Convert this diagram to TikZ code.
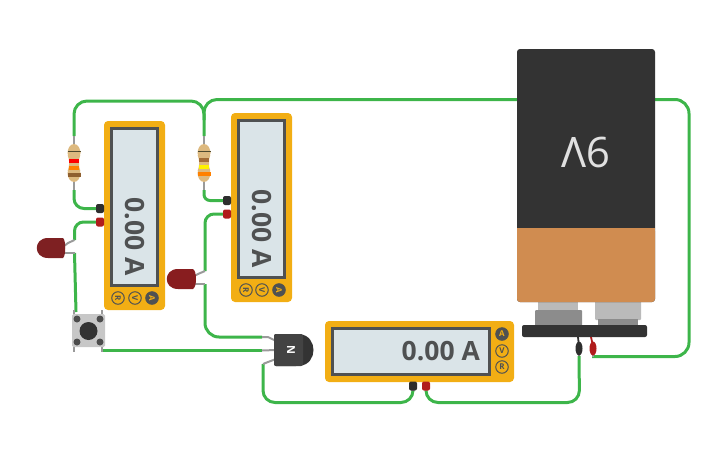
\documentclass[tikz,border=0pt]{standalone}
\usepackage{fontspec}
\setmainfont{Open Sans}
\definecolor{wirec}{HTML}{3DB54A}
\definecolor{meterc}{HTML}{F2AE14}
\definecolor{screenc}{HTML}{DAE4E8}
\definecolor{edgec}{HTML}{4F5152}
\definecolor{leadc}{HTML}{9A9A9A}
\definecolor{skinc}{HTML}{DDB97F}
\definecolor{batc}{HTML}{333333}
\definecolor{copperc}{HTML}{D08C50}
\definecolor{ledc}{HTML}{7E2022}
\definecolor{probec}{HTML}{2E2E2E}
\definecolor{proberc}{HTML}{B01C1C}
\tikzset{
  wire/.style={draw=wirec,line width=3pt,rounded corners=#1},
  wire/.default=13,
  lead/.style={draw=leadc,line width=2pt},
  meterv/.style={fill=meterc,rounded corners=4,minimum width=61,minimum height=189,inner sep=0},
  meterh/.style={fill=meterc,rounded corners=4,minimum width=189,minimum height=61,inner sep=0},
  screenv/.style={fill=screenc,draw=edgec,line width=2.4pt,minimum width=46,minimum height=157,inner sep=0},
  screenh/.style={fill=screenc,draw=edgec,line width=2.4pt,minimum width=157,minimum height=46,inner sep=0},
  readout/.style={text=edgec,inner sep=0,font=\fontsize{26.5}{28}\selectfont\bfseries},
  icono/.style={circle,draw=edgec,line width=1pt,fill=meterc,text=edgec,minimum size=12.5,inner sep=0,font=\fontsize{8}{8}\selectfont\bfseries},
  iconf/.style={icono,fill=edgec,text=meterc},
  bandc/.style={fill=#1,minimum width=13,minimum height=3.4,inner sep=0},
  pad/.style={circle,fill=#1,minimum size=7,inner sep=0},
  tip/.style={ellipse,fill=#1,minimum width=7,minimum height=14,inner sep=0},
  plugk/.style={fill=probec,rounded corners=2,minimum width=8,minimum height=9,inner sep=0},
  plugr/.style={fill=proberc,rounded corners=2,minimum width=8,minimum height=9,inner sep=0}
}
\usetikzlibrary{shapes.geometric}
\begin{document}
\begin{tikzpicture}[x=1pt,y=-1pt]
\useasboundingbox (0,0) rectangle (725,453);
% named ends
\coordinate (r1t) at (74,136); \coordinate (r1b) at (74,190);
\coordinate (r2t) at (204,136); \coordinate (r2b) at (204,190);
\coordinate (m1k) at (97,208.5); \coordinate (m1r) at (97,222);
\coordinate (m2k) at (224,200.5); \coordinate (m2r) at (224,214);
\coordinate (m3k) at (413,391); \coordinate (m3r) at (426,391);
\coordinate (l1a) at (74.5,240); \coordinate (l1c) at (74.5,253);
\coordinate (l2a) at (205,271); \coordinate (l2c) at (205,284);
\coordinate (sw1) at (76,312); \coordinate (sw2) at (102,350.5);
\coordinate (qc) at (262,337); \coordinate (qb) at (262,350.5); \coordinate (qe) at (263,364);
\coordinate (bk) at (579,356); \coordinate (br) at (592,356.5);
\coordinate (batl) at (520,99.5); \coordinate (batr) at (650,99.5);
\coordinate (j1) at (74,101); \coordinate (j2) at (204,101); \coordinate (j3) at (204,120);
\coordinate (lowa) at (263,402.5); \coordinate (lowb) at (413,402.5);
\coordinate (lowc) at (426,402.5); \coordinate (lowd) at (579.5,402.5);
\coordinate (rgt) at (689,99.5); \coordinate (rgb) at (689,356.5);
% wires
\draw[wire=13] (r1t) -- (j1) -- (j2) -- (j3);
\draw[wire=10] (r1b) |- (m1k);
\draw[wire=9] (l1a) |- (m1r);
\draw[wire=1] (l1c) -- (sw1);
\draw[wire=1] (sw2) -- (qb);
\draw[wire=13] (r2t) |- (batl);
\draw[wire=6] (r2b) |- (m2k);
\draw[wire=9] (l2a) |- (m2r);
\draw[wire=14] (l2c) |- (qc);
\draw[wire=12] (qe) -- (lowa) -- (lowb) -- (m3k);
\draw[wire=12] (m3r) -- (lowc) -- (lowd) -- (bk);
\draw[wire=14] (batr) -- (rgt) -- (rgb) -- (br);
% left meter
\node[meterv] (m1) at (134.5,215.5) {};
\node[screenv] (s1) at (134.5,207) {};
\node[readout,rotate=-90] (t1) at (134.5,236.5) {0.00 A};
\node[icono,rotate=-90] (m1i1) at (118,298) {R};
\node[icono,rotate=-90] (m1i2) at (135,298) {V};
\node[iconf,rotate=-90] (m1i3) at (152,298) {A};
\node[plugk] (m1kp) at (100,208.5) {};
\node[plugr] (m1rp) at (100,222) {};
% second meter
\node[meterv] (m2) at (261.5,207.5) {};
\node[screenv] (s2) at (261.5,199) {};
\node[readout,rotate=-90] (t2) at (261.5,228.5) {0.00 A};
\node[icono,rotate=-90] (m2i1) at (246,290) {R};
\node[icono,rotate=-90] (m2i2) at (262,290) {V};
\node[iconf,rotate=-90] (m2i3) at (279,290) {A};
\node[plugk] (m2kp) at (227,200.5) {};
\node[plugr] (m2rp) at (227,214) {};
% bottom meter
\draw[lead] (m3k) -- (413,384);
\draw[lead] (m3r) -- (426,384);
\node[meterh] (m3) at (419.5,351.5) {};
\node[screenh] (s3) at (411,351.5) {};
\node[readout,anchor=east] (t3) at (480,351.5) {0.00 A};
\node[iconf] (m3i1) at (502,334) {A};
\node[icono] (m3i2) at (502,351) {V};
\node[icono] (m3i3) at (502,367) {R};
\node[plugk] (m3kp) at (413,386) {};
\node[plugr] (m3rp) at (426,386) {};
% resistors
\foreach \n/\x in {p/74,q/204}{
  \draw[lead] (\x,136) -- (\x,146);
  \draw[lead] (\x,180) -- (\x,190);
  \fill[skinc,rounded corners=3] (\x-3,144) -- (\x+3,144) -- (\x+6.5,150) -- (\x+6.5,155) -- (\x+5,158) -- (\x+5,168) -- (\x+6.5,171) -- (\x+6.5,176) -- (\x+3,182) -- (\x-3,182) -- (\x-6.5,176) -- (\x-6.5,171) -- (\x-5,168) -- (\x-5,158) -- (\x-6.5,155) -- (\x-6.5,150) -- cycle;
  \node[fill=black!60!olive,minimum width=13,minimum height=1,inner sep=0] (\n0) at (\x,151.5) {};
}
\node[bandc=red,minimum width=10] (b1) at (74,161) {};
\node[bandc=orange,minimum width=10] (b2) at (74,168) {};
\node[bandc=brown!75!black] (b3) at (74,175) {};
\node[bandc=brown!85!black,minimum width=10] (b4) at (204,160) {};
\node[bandc=yellow,minimum width=10] (b5) at (204,167) {};
\node[bandc=orange] (b6) at (204,174) {};
% LEDs
\draw[lead] (64,246) -- (68,243) -- (l1a);
\draw[lead] (64,253) -- (l1c);
\draw[lead] (194,276) -- (198,274) -- (l2a);
\draw[lead] (194,284) -- (l2c);
\fill[ledc] (48,238) -- (63,238) .. controls (66,240) and (66,256) .. (63,258) -- (48,258) .. controls (33,258) and (33,238) .. (48,238) -- cycle;
\fill[ledc!92!red] (178,269) -- (193,269) .. controls (197,271) and (197,287) .. (193,289) -- (178,289) .. controls (163,289) and (163,269) .. (178,269) -- cycle;
% button
\draw[lead] (74,310) -- (74,352) (102,310) -- (102,352);
\node[fill=black!22,rounded corners=1.5,minimum width=33,minimum height=33,inner sep=0] (sw) at (88.5,330.5) {};
\node[pad=black!70] (c1) at (77,319) {};
\node[pad=black!70] (c2) at (100,319) {};
\node[pad=black!70] (c3) at (77,342) {};
\node[pad=black!70] (c4) at (100,342) {};
\node[circle,fill=batc,minimum size=18,inner sep=0] (swc) at (88.5,331) {};
% transistor
\draw[lead] (qc) -- (268,337) -- (276,341);
\draw[lead] (qb) -- (276,350);
\draw[lead] (qe) -- (268,362) -- (276,359);
\fill[batc,rounded corners=2] (274,334) -- (298,334) .. controls (318,336) and (318,364) .. (298,366) -- (274,366) -- cycle;
\fill[batc!92!white,rounded corners=2] (274,334) rectangle (303,366);
\node[text=white,rotate=-90,inner sep=0,font=\fontsize{11}{11}\selectfont\bfseries] (qn) at (291,350) {N};
% battery terminals
\fill[black!27] (538,300) rectangle (578,311);
\fill[black!45,rounded corners=1] (535,310) rectangle (582,327);
\fill[black!27,rounded corners=1] (595,300) rectangle (641,320);
\fill[black!45] (598,319) rectangle (638,327);
\node[fill=batc,rounded corners=2,minimum width=125,minimum height=12,inner sep=0] (base) at (584.5,331) {};
% battery
\node[fill=batc,rounded corners=3,minimum width=138,minimum height=253,inner sep=0] (bat) at (586,175.5) {};
\fill[copperc,rounded corners=3] (517,228) -- (517,302) -- (655,302) -- (655,228) -- cycle;
\fill[copperc] (517,228) rectangle (655,236);
\node[text=black!12,rotate=180,inner sep=0,font=\fontsize{42}{42}\selectfont] (lbl) at (586,152) {9V};
% battery probes
\draw[draw=probec,line width=1.8pt] (578,337) -- (579,346);
\draw[draw=proberc,line width=1.8pt] (591,337) -- (593,346);
\draw[lead] (579,352) -- (bk);
\draw[lead] (592.5,352) -- (592.5,357);
\node[tip=probec] (pk) at (579,348.5) {};
\node[tip=proberc] (pr) at (593,348.5) {};
\end{tikzpicture}
\end{document}
